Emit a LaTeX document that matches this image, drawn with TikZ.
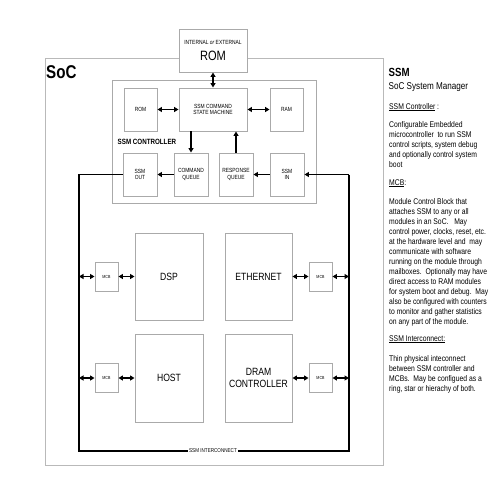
\documentclass[tikz,border=0pt]{standalone}
\usepackage{fontspec}
\setmainfont{Liberation Sans}[FakeStretch=0.82]
\usetikzlibrary{arrows.meta}
\definecolor{boxgray}{RGB}{170,170,170}
\definecolor{socgray}{RGB}{185,185,185}
\tikzset{
  blk/.style={draw=boxgray, line width=0.9pt, fill=white, inner sep=0pt, align=center},
  bus/.style={line width=1.6pt, black},
  dbl/.style={line width=1.4pt, black, {Triangle[length=4.5pt,width=5pt]}-{Triangle[length=4.5pt,width=5pt]}},
  one/.style={line width=1.4pt, black, -{Triangle[length=4.5pt,width=5pt]}},
  tiny/.style={font=\fontsize{6}{6.8}\selectfont},
  mid/.style={font=\fontsize{10.5}{12.5}\selectfont},
  para/.style={anchor=north west, align=left, inner sep=0pt, font=\fontsize{8.3}{10}\selectfont},
}
\begin{document}
\begin{tikzpicture}[x=1pt,y=-1pt]
\useasboundingbox (0,0) rectangle (495,495);
\fill[white] (0,0) rectangle (495,495);
% SoC box
\node[draw=socgray, line width=0.8pt, minimum width=338pt, minimum height=407pt, inner sep=0pt] (soc) at (214,261.5) {};
\node[anchor=west, inner sep=0pt, font=\fontsize{18.5}{20}\selectfont\bfseries] (soclbl) at (46,72) {SoC};
% external ROM
\node[blk, minimum width=68pt, minimum height=43pt] (extrom) at (213,50.5) {};
\node[tiny, inner sep=0pt] (extromt) at (213,42) {INTERNAL {\itshape or} EXTERNAL};
\node[inner sep=0pt, font=\fontsize{13.5}{15}\selectfont] (extromr) at (213,56) {ROM};
% controller
\node[blk, minimum width=204pt, minimum height=123pt] (ctrl) at (214,141.5) {};
\node[anchor=west, inner sep=0pt, font=\fontsize{7.6}{9}\selectfont\bfseries] (ctrllbl) at (117.5,142) {SSM CONTROLLER};
\node[blk, tiny, minimum width=33pt, minimum height=43pt] (rom) at (140.5,109.5) {ROM};
\node[blk, tiny, minimum width=68pt, minimum height=43pt] (sm) at (213,109.5) {SSM COMMAND\\STATE MACHINE};
\node[blk, tiny, minimum width=33pt, minimum height=43pt] (ram) at (286.5,109.5) {RAM};
\node[blk, tiny, minimum width=34pt, minimum height=43pt] (ssmout) at (140,174.5) {SSM\\OUT};
\node[blk, tiny, minimum width=34pt, minimum height=43pt] (cmdq) at (191,174.5) {COMMAND\\QUEUE};
\node[blk, tiny, minimum width=34pt, minimum height=43pt] (respq) at (236,174.5) {RESPONSE\\QUEUE};
\node[blk, tiny, minimum width=34pt, minimum height=43pt] (ssmin) at (287,174.5) {SSM\\IN};
% modules
\node[blk, mid, minimum width=68pt, minimum height=87pt] (dsp) at (169,276.5) {DSP};
\node[blk, mid, minimum width=67pt, minimum height=87pt] (eth) at (258.5,276.5) {ETHERNET};
\node[blk, mid, minimum width=68pt, minimum height=88pt] (host) at (169,378) {HOST};
\node[blk, mid, minimum width=67pt, minimum height=88pt] (dram) at (258.5,378) {DRAM\\CONTROLLER};
\node[blk, font=\fontsize{4.4}{5}\selectfont, minimum width=23pt, minimum height=29pt] (mcba) at (106.5,276.5) {MCB};
\node[blk, font=\fontsize{4.4}{5}\selectfont, minimum width=23pt, minimum height=29pt] (mcbb) at (320.5,276.5) {MCB};
\node[blk, font=\fontsize{4.4}{5}\selectfont, minimum width=23pt, minimum height=29pt] (mcbc) at (106.5,378) {MCB};
\node[blk, font=\fontsize{4.4}{5}\selectfont, minimum width=23pt, minimum height=29pt] (mcbd) at (320.5,378) {MCB};
% interconnect corners
\coordinate (tl) at (79,174.5);
\coordinate (bl) at (79,451);
\coordinate (br) at (349,451);
\coordinate (tr) at (349,174.5);
\coordinate (la) at (79,276.5);
\coordinate (lc) at (79,378);
\coordinate (rb) at (349,276.5);
\coordinate (rd) at (349,378);
\draw[bus] (ssmout.west) -- (tl) -- (bl) -- (br) -- (tr);
\draw[bus, -{Triangle[length=4.5pt,width=5pt]}] (tr) -- (ssmin.east);
\node[fill=white, inner sep=1pt, font=\fontsize{5.6}{6}\selectfont] (iclbl) at (213,451) {SSM INTERCONNECT};
% internal arrows
\draw[dbl] (extrom.south) -- (sm.north);
\draw[dbl] (rom.east) -- (sm.west);
\draw[dbl] (sm.east) -- (ram.west);
\draw[one] (sm.south -| cmdq.north) -- (cmdq.north);
\draw[one] (respq.north) -- (respq.north |- sm.south);
\draw[one] (cmdq.west) -- (ssmout.east);
\draw[one] (ssmin.west) -- (respq.east);
% MCB arrows
\draw[dbl] (la) -- (mcba.west);
\draw[dbl] (mcba.east) -- (dsp.west);
\draw[dbl] (lc) -- (mcbc.west);
\draw[dbl] (mcbc.east) -- (host.west);
\draw[dbl] (eth.east) -- (mcbb.west);
\draw[dbl] (mcbb.east) -- (rb);
\draw[dbl] (dram.east) -- (mcbd.west);
\draw[dbl] (mcbd.east) -- (rd);
% right text column
\node[anchor=base west, inner sep=0pt, font=\fontsize{11.8}{13}\selectfont\bfseries] (t1) at (388.5,77) {SSM};
\node[anchor=base west, inner sep=0pt, font=\fontsize{9.9}{11}\selectfont] (t2) at (388.5,89) {SoC System Manager};
\node[anchor=base west, inner sep=0pt, font=\fontsize{8.3}{10}\selectfont] (t3) at (389,109) {\underline{SSM Controller} :};
\node[para] (p1) at (389,121) {Configurable Embedded\\microcontroller\ \ to run SSM\\control scripts, system debug\\and optionally control system\\boot};
\node[anchor=base west, inner sep=0pt, font=\fontsize{8.3}{10}\selectfont] (t4) at (389,185) {\underline{MCB}:};
\node[para] (p2) at (389,198) {Module Control Block that\\attaches SSM to any or all\\modules in an SoC.\ \ \ May\\control power, clocks, reset, etc.\\at the hardware level and\ \ may\\communicate with software\\running on the module through\\mailboxes.\ \ Optionally may have\\direct access to RAM modules\\for system boot and debug.\ \ May\\also be configured with counters\\to monitor and gather statistics\\on any part of the module.};
\node[anchor=base west, inner sep=0pt, font=\fontsize{8.3}{10}\selectfont] (t5) at (389,341) {\underline{SSM Interconnect:}};
\node[para] (p3) at (389,355) {Thin physical inteconnect\\between SSM controller and\\MCBs.\ \ May be configued as a\\ring, star or hierachy of both.};
\end{tikzpicture}
\end{document}
